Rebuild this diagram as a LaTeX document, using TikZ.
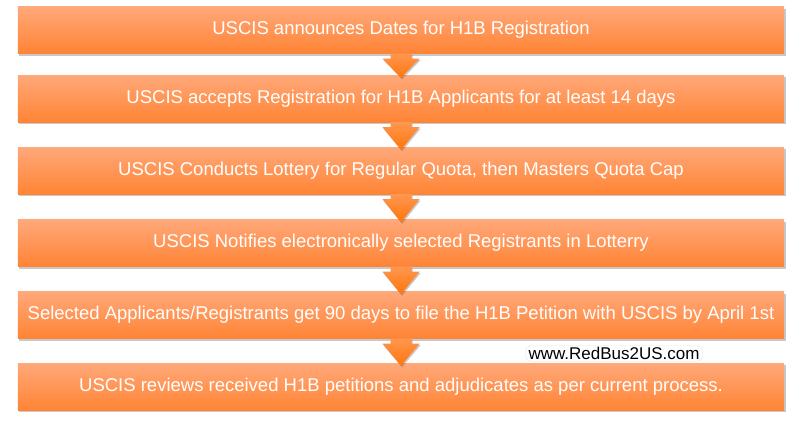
\documentclass[tikz,border=0pt]{standalone}
\usepackage{fontspec}
\setmainfont{Liberation Sans}
\usetikzlibrary{shadows,calc}
\definecolor{boxtop}{RGB}{255,168,122}
\definecolor{boxbot}{RGB}{255,132,52}
\definecolor{arrtop}{RGB}{255,150,80}
\definecolor{arrbot}{RGB}{255,118,10}
\newcommand\flowarrow[2]{%
  \path[flow] let \p1=(#1.south), \p2=(#2.north) in
    (\x1-10.5bp,\y1) -- (\x1+10.5bp,\y1) -- (\x1+10.5bp,\y1-5bp) --
    (\x1+18.5bp,\y1-5bp) -- (\x1,\y2-3bp) -- (\x1-18.5bp,\y1-5bp) --
    (\x1-10.5bp,\y1-5bp) -- cycle;}
\begin{document}
\begin{tikzpicture}[x=1bp,y=-1bp,
  box/.style={minimum width=766bp, minimum height=47bp, inner sep=0pt,
    top color=boxtop, bottom color=boxbot, draw=none, text=white,
    font=\fontsize{18.5bp}{22bp}\selectfont,
    drop shadow={shadow xshift=1.5bp, shadow yshift=-2bp, opacity=0.3, fill=black!70}},
  flow/.style={top color=arrtop, bottom color=arrbot, draw=none,
    drop shadow={shadow xshift=1bp, shadow yshift=-1.5bp, opacity=0.3, fill=black!70}},
  wmark/.style={fill=white, draw=black!10, rounded corners=5bp, inner xsep=3bp,
    inner ysep=1.5bp, text=black, font=\fontsize{17bp}{19bp}\selectfont}]
\useasboundingbox (0,0) rectangle (805,423);
\fill[white] (0,0) rectangle (805,423);
\node[box] (b1) at (401,30) {USCIS announces Dates for H1B Registration};
\node[box] (b2) at (401,98.5) {USCIS accepts Registration for H1B Applicants for at least 14 days};
\node[box] (b3) at (401,170.5) {USCIS Conducts Lottery for Regular Quota, then Masters Quota Cap};
\node[box] (b4) at (401,243) {USCIS Notifies electronically selected Registrants in Lotterry};
\node[box] (b5) at (401,315) {Selected Applicants/Registrants get 90 days to file the H1B Petition with USCIS by April 1st};
\node[box] (b6) at (401,386.5) {USCIS reviews received H1B petitions and adjudicates as per current process.};
\flowarrow{b1}{b2}
\flowarrow{b2}{b3}
\flowarrow{b3}{b4}
\flowarrow{b4}{b5}
\flowarrow{b5}{b6}
\node[wmark] (wm) at (614,353.5) {www.RedBus2US.com};
\end{tikzpicture}
\end{document}
